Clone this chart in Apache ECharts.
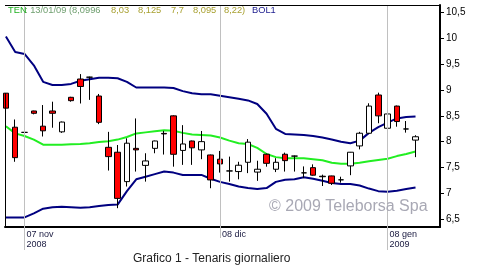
<!DOCTYPE html>
<html>
<head>
<meta charset="utf-8">
<script src="https://cdn.jsdelivr.net/npm/echarts@6/dist/echarts.min.js"></script>
<style>html,body{margin:0;padding:0;background:#fff}#c{width:480px;height:280px}</style>
</head>
<body>
<div id="c"></div>
<script>
// Trading days shown (Tenaris, daily)
const dates = ['05/11/08','06/11/08','07/11/08','10/11/08','11/11/08','12/11/08','13/11/08','14/11/08','17/11/08','18/11/08',
  '19/11/08','20/11/08','21/11/08','24/11/08','25/11/08','26/11/08','27/11/08','28/11/08','01/12/08','02/12/08',
  '03/12/08','04/12/08','05/12/08','08/12/08','09/12/08','10/12/08','11/12/08','12/12/08','15/12/08','16/12/08',
  '17/12/08','18/12/08','19/12/08','22/12/08','23/12/08','29/12/08','30/12/08','02/01/09','05/01/09','06/01/09',
  '07/01/09','08/01/09','09/01/09','12/01/09','13/01/09'];
const openP  = [8.94,8.28,8.18,8.595,8.30,8.595,8.19,8.86,9.215,9.25,8.885,7.89,7.795,7.225,7.87,7.54,7.87,8.16,8.50,7.83,
  8.013,7.84,7.742,7.66,7.432,7.42,7.60,7.41,7.756,7.465,7.756,7.72,7.395,7.496,7.33,7.335,7.26,7.53,7.917,8.163,
  8.905,8.26,8.69,8.246,8.03];
const closeP = [8.65,7.69,8.18,8.55,8.21,8.55,8.38,8.795,9.07,9.25,8.375,7.71,6.90,7.97,7.84,7.626,8.013,8.15,7.755,7.955,
  7.88,8.0,7.258,7.568,7.432,7.543,7.99,7.465,7.58,7.60,7.632,7.72,7.395,7.35,7.32,7.194,7.26,7.795,8.163,8.69,
  8.50,8.537,8.39,8.246,8.095];
const highP  = [8.94,8.43,8.45,8.60,8.71,8.775,8.39,8.87,9.31,9.26,8.925,8.19,7.935,8.065,8.45,7.775,8.02,8.21,8.51,8.32,
  8.02,8.207,7.75,7.82,7.71,7.61,8.05,7.63,7.77,7.68,7.787,7.73,7.52,7.56,7.36,7.34,7.32,7.80,8.19,8.744,
  8.95,8.678,8.70,8.40,8.125];
const lowP   = [8.45,7.61,7.79,8.53,8.10,8.27,8.17,8.775,8.74,8.81,8.34,7.44,6.71,7.13,7.42,7.225,7.775,7.75,7.515,7.55,
  7.55,7.66,7.097,7.40,7.225,7.27,7.39,7.24,7.515,7.41,7.42,7.42,7.30,7.34,7.14,7.16,7.205,7.35,7.85,8.15,
  8.357,8.13,8.29,8.175,7.70];
// Bollinger bands
const bolUpper = [10.04,9.74,9.70,9.48,9.16,9.10,9.10,9.12,9.18,9.21,9.24,9.24,9.23,9.16,9.05,9.05,9.05,9.05,9.04,8.98,
  8.94,8.92,8.92,8.89,8.86,8.83,8.80,8.73,8.54,8.25,8.15,8.14,8.13,8.11,8.08,8.04,8.00,7.97,8.02,8.17,
  8.28,8.37,8.45,8.48,8.49];
const bolMiddle = [8.30,8.16,8.11,8.04,7.94,7.94,7.94,7.95,7.955,7.97,7.995,8.01,8.04,8.09,8.16,8.18,8.20,8.22,8.21,8.17,
  8.14,8.13,8.12,8.08,8.02,7.97,7.955,7.88,7.76,7.70,7.68,7.68,7.68,7.66,7.64,7.59,7.57,7.57,7.59,7.62,
  7.645,7.67,7.72,7.76,7.81];
const bolLower = [6.53,6.53,6.53,6.61,6.70,6.73,6.74,6.73,6.72,6.73,6.75,6.77,6.78,7.04,7.27,7.32,7.37,7.42,7.40,7.355,
  7.355,7.355,7.28,7.22,7.18,7.13,7.10,7.08,7.10,7.22,7.26,7.27,7.31,7.28,7.24,7.20,7.18,7.18,7.15,7.09,
  7.04,7.03,7.05,7.08,7.11];
// Axis ticks
const xTickIdx = [2, 23, 41];
const xTickText = ['07 nov\n2008', '08 dic', '08 gen\n2009'];
const yTicks = [6.5, 7, 7.5, 8, 8.5, 9, 9.5, 10, 10.5];

const FONT = 'Liberation Sans, Arial, sans-serif';
const candles = dates.map((d, i) => [i, openP[i], closeP[i], lowP[i], highP[i]]);
const pairs = arr => arr.map((v, i) => [i, v]);

const chart = echarts.init(document.getElementById('c'), null, {renderer: 'canvas'});
chart.setOption({
  animation: false,
  backgroundColor: '#ffffff',
  grid: {left: 5, right: 40, top: 5, bottom: 53, show: false},
  xAxis: [{
    type: 'value', min: -0.097, max: 46.63, position: 'bottom',
    axisLine: {show: true, onZero: false, lineStyle: {color: '#000', width: 2}},
    axisTick: {show: true, customValues: [xTickIdx[0], xTickIdx[2]], length: 23, lineStyle: {color: '#c0c0c0', width: 1}},
    axisLabel: {show: true, customValues: xTickIdx, formatter: v => xTickText[xTickIdx.indexOf(Math.round(v))] || '',
      align: 'left', verticalAlign: 'top', margin: 3, padding: [0, 0, 0, 2], lineHeight: 10,
      fontFamily: FONT, fontSize: 9, color: '#1a1a40'},
    splitLine: {show: false}
  }, {
    type: 'value', min: -0.097, max: 46.63, position: 'bottom',
    axisLine: {show: false},
    axisTick: {show: true, customValues: [xTickIdx[1]], length: 11, lineStyle: {color: '#c0c0c0', width: 1}},
    axisLabel: {show: false},
    splitLine: {show: false}
  }],
  yAxis: {
    type: 'value', min: 6.345, max: 10.65, position: 'right',
    axisLine: {show: true, onZero: false, lineStyle: {color: '#000', width: 2}},
    axisTick: {show: true, customValues: yTicks, length: 4, inside: false, lineStyle: {color: '#000', width: 1}},
    axisLabel: {show: true, customValues: yTicks, margin: 6, formatter: v => String(v).replace('.', ','),
      fontFamily: FONT, fontSize: 10, color: '#000'},
    splitLine: {show: false}
  },
  series: [
    {type: 'line', name: 'grid', data: [], z: 1,
      markLine: {silent: true, symbol: ['none', 'none'], label: {show: false},
        lineStyle: {color: '#c0c0c0', type: 'solid', width: 1},
        data: xTickIdx.map(v => ({xAxis: v}))}},
    {type: 'line', name: 'upper', data: pairs(bolUpper), showSymbol: false, z: 2,
      lineStyle: {color: '#000080', width: 2}},
    {type: 'line', name: 'middle', data: pairs(bolMiddle), showSymbol: false, z: 2,
      lineStyle: {color: '#22ee22', width: 2}},
    {type: 'line', name: 'lower', data: pairs(bolLower), showSymbol: false, z: 2,
      lineStyle: {color: '#000080', width: 2}},
    {type: 'candlestick', name: 'TEN', data: candles, barWidth: 6, z: 3,
      itemStyle: {color: '#ffffff', color0: '#ff0000', borderColor: '#000', borderColor0: '#000', borderColorDoji: '#000', borderWidth: 1}}
  ],
  graphic: [
    {type: 'line', shape: {x1: 5, y1: 5.5, x2: 441, y2: 5.5}, style: {stroke: '#000', lineWidth: 1}, z: 10},
    {type: 'line', shape: {x1: 5.5, y1: 93, x2: 5.5, y2: 227}, style: {stroke: '#000', lineWidth: 1}, z: 10},
    {type: 'text', left: 8, top: 6, z: 10, style: {text: 'TEN', fill: '#20b020', font: '9.3px ' + FONT}},
    {type: 'text', left: 25, top: 6, z: 10, style: {text: ': 13/01/09 (8,0996', fill: '#6e9e6e', font: '9.3px ' + FONT}},
    {type: 'text', left: 111, top: 6, z: 10, style: {text: '8,03', fill: '#a8a030', font: '9.3px ' + FONT}},
    {type: 'text', left: 138, top: 6, z: 10, style: {text: '8,125', fill: '#a8a030', font: '9.3px ' + FONT}},
    {type: 'text', left: 171, top: 6, z: 10, style: {text: '7,7', fill: '#a8a030', font: '9.3px ' + FONT}},
    {type: 'text', left: 193, top: 6, z: 10, style: {text: '8,095', fill: '#a8a030', font: '9.3px ' + FONT}},
    {type: 'text', left: 224, top: 6, z: 10, style: {text: '8,22)', fill: '#a8a030', font: '9.3px ' + FONT}},
    {type: 'text', left: 252, top: 6, z: 10, style: {text: 'BOL1', fill: '#202090', font: '9.3px ' + FONT}},
    {type: 'text', left: 269, top: 199, z: 10, style: {text: '© 2009 Teleborsa Spa', fill: '#a8a8b4', font: '16px ' + FONT}},
    {type: 'text', left: 133, top: 253, z: 10, style: {text: 'Grafico 1 - Tenaris giornaliero', fill: '#222', font: '12px ' + FONT}}
  ]
});
</script>
</body>
</html>
